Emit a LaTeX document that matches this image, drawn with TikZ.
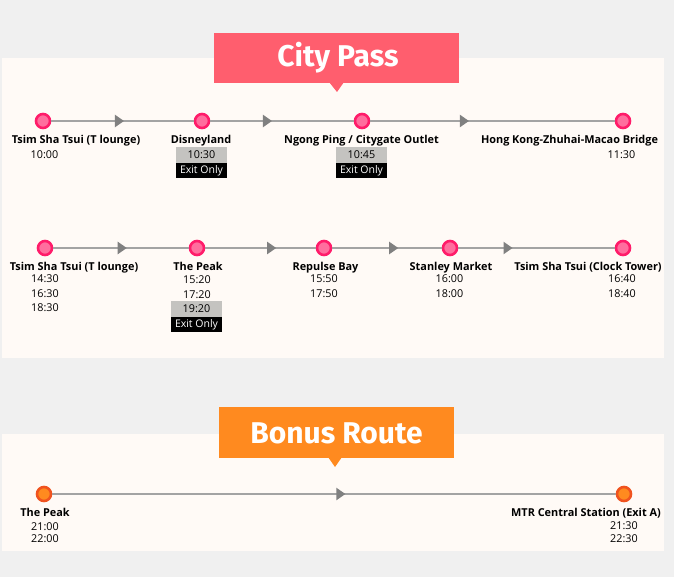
\documentclass[tikz,border=0pt]{standalone}
\usepackage{fontspec}
\setmainfont{Open Sans}
\newfontfamily\bannerfont{Fira Sans}
\usetikzlibrary{positioning}
\usetikzlibrary{shapes.geometric}
\definecolor{pagegray}{HTML}{F0F0F0}
\definecolor{panelcream}{HTML}{FFFAF6}
\definecolor{passpink}{HTML}{FF5E6E}
\definecolor{ringpink}{HTML}{FF1C6A}
\definecolor{fillpink}{HTML}{FF6E9E}
\definecolor{bonusorange}{HTML}{FF8A1F}
\definecolor{ringorange}{HTML}{F0531F}
\definecolor{linegray}{HTML}{A3A3A3}
\definecolor{arrowgray}{HTML}{808080}
\definecolor{boxgray}{HTML}{C4C3C0}
\tikzset{
  stop/.style={circle, draw=ringpink, fill=fillpink, line width=2.6pt, minimum size=14pt, inner sep=0pt},
  bonusstop/.style={stop, draw=ringorange, fill=bonusorange},
  runline/.style={draw=linegray, line width=2pt},
  runarrow/.style={isosceles triangle, isosceles triangle apex angle=70, fill=arrowgray, inner sep=0pt, minimum height=9pt, minimum width=10pt},
  stopname/.style={font=\bfseries\fontsize{10.9}{12}\selectfont, inner sep=0pt, anchor=base},
  stoptime/.style={font=\fontsize{10.8}{12}\selectfont, inner sep=0pt, anchor=base},
  timebox/.style={fill=boxgray, font=\fontsize{10.8}{12}\selectfont, inner sep=0pt, minimum width=51pt, minimum height=16pt},
  exitbox/.style={fill=black, text=white, font=\fontsize{10.5}{12}\selectfont, inner sep=0pt, minimum width=51pt, minimum height=15pt},
  banner/.style={inner sep=0pt, text=white, font=\bannerfont\bfseries\fontsize{30}{32}\selectfont}
}
\begin{document}
\begin{tikzpicture}[x=1pt,y=-1pt]
  \fill[pagegray] (0,0) rectangle (674,577);
  \useasboundingbox (0,0) rectangle (674,577);
  \fill[panelcream] (2,58) rectangle (664,358);
  \fill[panelcream] (2,434) rectangle (664,551);

  \fill[passpink] (214,33) rectangle (459,83);
  \fill[passpink] (329,82) -- (344,82) -- (337,92) -- cycle;
  \node[banner] (pass) at (338,58) {City Pass};

  \node[stop] (a1) at (43,121) {};
  \node[stop] (a2) at (202,121) {};
  \node[stop] (a3) at (362,121) {};
  \node[stop] (a4) at (623,121) {};
  \draw[runline] (a1) -- node[runarrow, pos=0.47] {} (a2);
  \draw[runline] (a2) -- node[runarrow, pos=0.39] {} (a3);
  \draw[runline] (a3) -- node[runarrow, pos=0.38] {} (a4);

  \node[stopname] (an1) at (76,144) {Tsim Sha Tsui (T lounge)};
  \node[stoptime] (at1) at (44.5,159) {10:00};
  \node[stopname] (an2) at (201,144) {Disneyland};
  \node[timebox] (ab2) at (201.5,155) {10:30};
  \node[exitbox, below=0pt of ab2] (ax2) {Exit Only};
  \node[stopname] (an3) at (361.5,144) {Ngong Ping / Citygate Outlet};
  \node[timebox] (ab3) at (361.5,155) {10:45};
  \node[exitbox, below=0pt of ab3] (ax3) {Exit Only};
  \node[stopname] (an4) at (569.5,144) {Hong Kong-Zhuhai-Macao Bridge};
  \node[stoptime] (at4) at (621.5,159) {11:30};

  \node[stop] (b1) at (45,248) {};
  \node[stop] (b2) at (197,248) {};
  \node[stop] (b3) at (324,248) {};
  \node[stop] (b4) at (450,248) {};
  \node[stop] (b5) at (623,248) {};
  \draw[runline] (b1) -- node[runarrow, pos=0.5] {} (b2);
  \draw[runline] (b2) -- node[runarrow, pos=0.59] {} (b3);
  \draw[runline] (b3) -- node[runarrow, pos=0.55] {} (b4);
  \draw[runline] (b4) -- node[runarrow, pos=0.31] {} (b5);

  \node[stopname] (bn1) at (74,270) {Tsim Sha Tsui (T lounge)};
  \foreach \t [count=\i] in {14:30,16:30,18:30}
    \node[stoptime] (bt1-\i) at (45,268.5+14.3*\i) {\t};
  \node[stopname] (bn2) at (198,270) {The Peak};
  \foreach \t [count=\i] in {15:20,17:20}
    \node[stoptime] (bt2-\i) at (197,269.5+14.3*\i) {\t};
  \node[timebox] (bb2) at (196.5,308.5) {19:20};
  \node[exitbox, below=0pt of bb2] (bx2) {Exit Only};
  \node[stopname] (bn3) at (325.5,270) {Repulse Bay};
  \foreach \t [count=\i] in {15:50,17:50}
    \node[stoptime] (bt3-\i) at (324,268.5+14.3*\i) {\t};
  \node[stopname] (bn4) at (451,270) {Stanley Market};
  \foreach \t [count=\i] in {16:00,18:00}
    \node[stoptime] (bt4-\i) at (449.5,268.5+14.3*\i) {\t};
  \node[stopname] (bn5) at (588,270) {Tsim Sha Tsui (Clock Tower)};
  \foreach \t [count=\i] in {16:40,18:40}
    \node[stoptime] (bt5-\i) at (622,268.5+14.3*\i) {\t};

  \fill[bonusorange] (219,407) rectangle (454,458);
  \fill[bonusorange] (328,457) -- (342,457) -- (335,467) -- cycle;
  \node[banner] (bonus) at (336.5,433) {Bonus Route};

  \node[bonusstop] (c1) at (44,494) {};
  \node[bonusstop] (c2) at (624,494) {};
  \draw[runline] (c1) -- node[runarrow, pos=0.51] {} (c2);

  \node[stopname] (cn1) at (45,516.5) {The Peak};
  \foreach \t [count=\i] in {21:00,22:00}
    \node[stoptime] (ct1-\i) at (45,517.5+12.5*\i) {\t};
  \node[stopname] (cn2) at (586,516.5) {MTR Central Station (Exit A)};
  \foreach \t [count=\i] in {21:30,22:30}
    \node[stoptime] (ct2-\i) at (624,517+12.5*\i) {\t};
\end{tikzpicture}
\end{document}
